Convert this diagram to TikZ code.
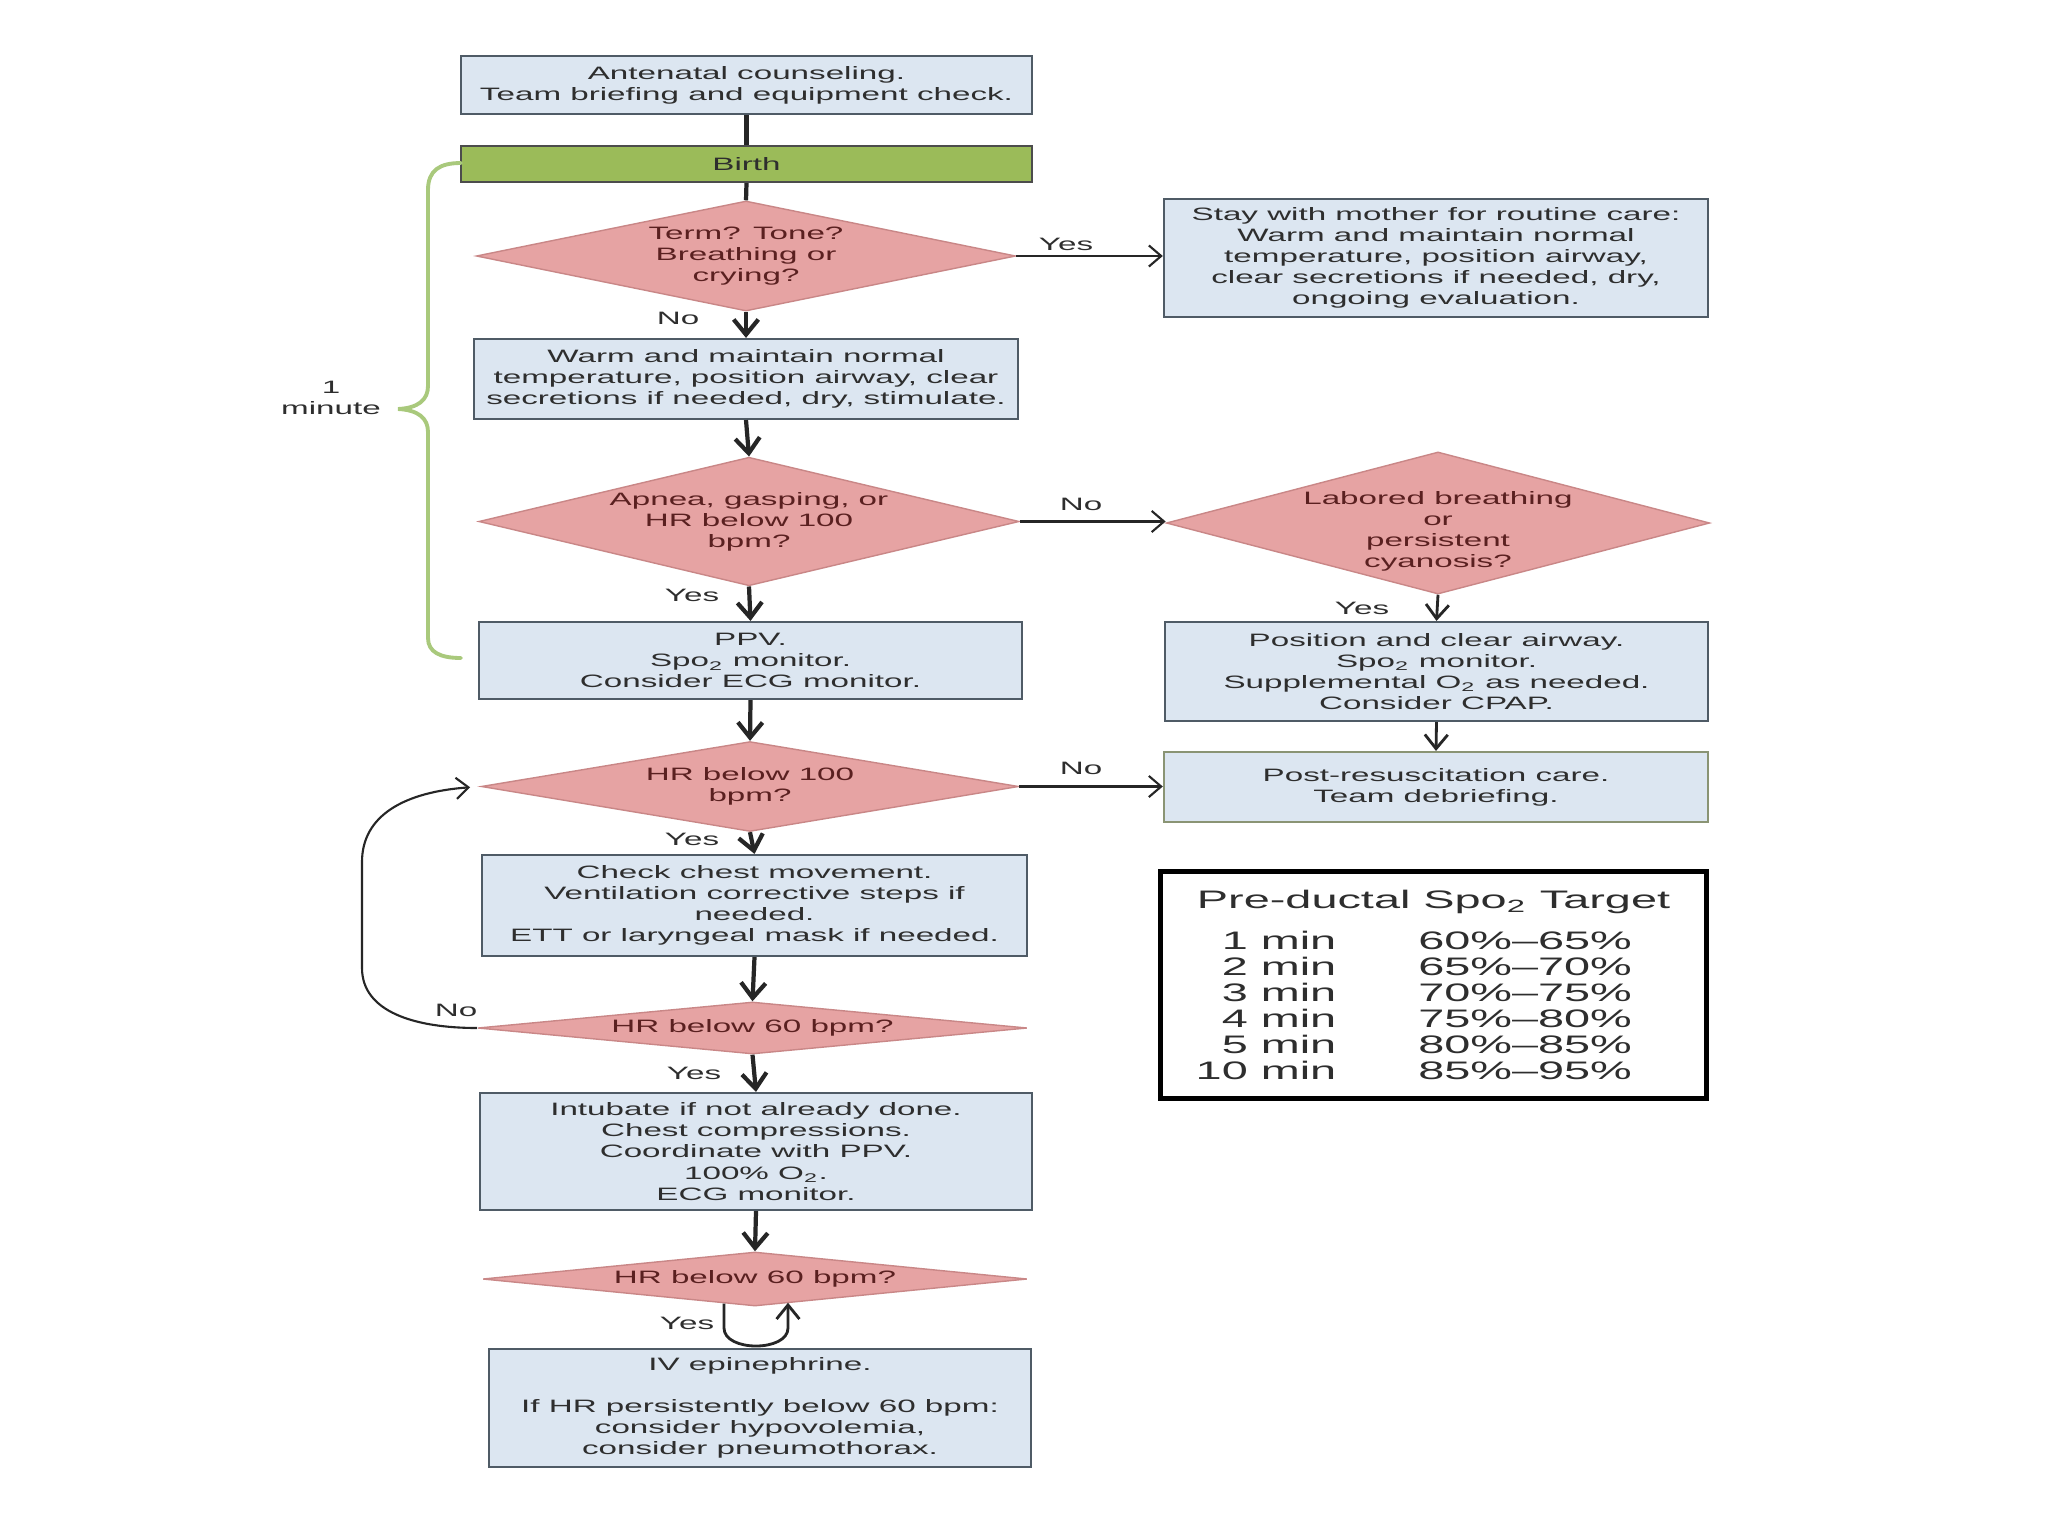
\documentclass[tikz,border=0pt]{standalone}
\usepackage{fontspec}
\setmainfont[FakeStretch=1.85]{Liberation Sans}
\usetikzlibrary{shapes.geometric,arrows.meta,calc}
\definecolor{boxfill}{HTML}{DCE6F1}
\definecolor{boxdraw}{HTML}{4F5B66}
\definecolor{dfill}{HTML}{E6A3A3}
\definecolor{ddraw}{HTML}{C98787}
\definecolor{dtext}{HTML}{5A2020}
\definecolor{birthfill}{HTML}{9BBB59}
\definecolor{bracec}{HTML}{A9C97C}
\definecolor{txt}{HTML}{2E2E2E}
\definecolor{postdraw}{HTML}{8A9474}
\newcommand\mainfs{\fontsize{5.1}{6}\selectfont}
\newcommand\tabfs{\fontsize{7.2}{7.1}\selectfont}
\newcommand\zerotext[1]{\makebox[0pt][c]{\smash{\begin{tabular}{@{}c@{}}#1\end{tabular}}}}
\tikzset{
  box/.style={draw=boxdraw, fill=boxfill, line width=0.6pt, text=txt, align=center, inner sep=0pt, font=\mainfs},
  dia/.style={diamond, aspect=4, draw=ddraw, fill=dfill, line width=0.4pt, text=dtext, align=center, inner sep=0pt, font=\mainfs},
  lab/.style={text=txt, font=\mainfs, inner sep=0pt},
  thick line/.style={draw=black!85, line width=1.2pt},
  bigarr/.style={draw=black!85, line width=1.2pt, -{Straight Barb[length=4.3pt,width=7pt]}},
  medarr/.style={draw=black!85, line width=0.8pt, -{Straight Barb[length=4pt,width=6.5pt]}},
  thinarr/.style={draw=black!85, line width=0.6pt, -{Straight Barb[length=3.5pt,width=6pt]}}
}
\begin{document}
\begin{tikzpicture}[x=0.01cm, y=-0.01cm]
\fill[white] (0,0) rectangle (2048,1536);
\useasboundingbox (0,0) rectangle (2048,1536);

% left column
\node[box, minimum width=5.71cm, minimum height=0.58cm] (box1) at (746.5,85)
  {Antenatal counseling.\\Team briefing and equipment check.};
\node[box, fill=birthfill, draw=black!70, minimum width=5.71cm, minimum height=0.36cm] (birth) at (746.5,164) {Birth};
\node[dia, minimum width=5.39cm, minimum height=1.1cm] (d1) at (746,256)
  {Term? Tone?\\Breathing or\\crying?};
\node[box, minimum width=5.44cm, minimum height=1.18cm] (stay) at (1436,258)
  {Stay with mother for routine care:\\Warm and maintain normal\\temperature, position airway,\\clear secretions if needed, dry,\\ongoing evaluation.};
\node[box, minimum width=5.44cm, minimum height=0.8cm] (warm) at (746,379)
  {Warm and maintain normal\\temperature, position airway, clear\\secretions if needed, dry, stimulate.};
\node[dia, minimum width=5.40cm, minimum height=1.21cm] (d2) at (749,521.5)
  {Apnea, gasping, or\\HR below 100\\bpm?};
\node[dia, minimum width=5.43cm, minimum height=1.42cm] (d3) at (1438,523)
  {\smash{\raisebox{-3.75pt}{\zerotext{Labored breathing\\or\\persistent\\cyanosis?}}}};
\node[box, minimum width=5.43cm, minimum height=0.99cm] (pos) at (1436.5,671.5)
  {Position and clear airway.\\Spo\textsubscript{2} monitor.\\Supplemental O\textsubscript{2} as needed.\\Consider CPAP.};
\node[box, draw=postdraw, minimum width=5.44cm, minimum height=0.70cm] (post) at (1436,787)
  {Post-resuscitation care.\\Team debriefing.};
\node[box, minimum width=5.43cm, minimum height=0.77cm] (ppv) at (750.5,660.5)
  {PPV.\\Spo\textsubscript{2} monitor.\\Consider ECG monitor.};
\node[dia, minimum width=5.37cm, minimum height=0.81cm] (d4) at (750,786.5)
  {HR below 100\\bpm?};
\node[box, minimum width=5.45cm, minimum height=1.01cm] (check) at (754.5,905.5)
  {Check chest movement.\\Ventilation corrective steps if\\needed.\\ETT or laryngeal mask if needed.};
\node[dia, aspect=9, minimum width=5.49cm, minimum height=0.52cm] (d5) at (752.5,1028)
  {HR below 60 bpm?};
\node[box, minimum width=5.52cm, minimum height=1.17cm] (intub) at (756,1151.5)
  {Intubate if not already done.\\Chest compressions.\\Coordinate with PPV.\\100\% O\textsubscript{2}.\\ECG monitor.};
\node[dia, aspect=9, minimum width=5.44cm, minimum height=0.54cm] (d6) at (755,1279)
  {HR below 60 bpm?};
\node[box, minimum width=5.42cm, minimum height=1.18cm] (epi) at (760,1408)
  {IV epinephrine.\\[6pt]If HR persistently below 60 bpm:\\consider hypovolemia,\\consider pneumothorax.};

% SpO2 table
\node[draw=black, line width=1.4pt, fill=white, minimum width=5.45cm, minimum height=2.26cm, inner sep=0pt] (spo) at (1433.5,985) {};
\node[text=txt, font=\tabfs, inner sep=0pt] (spotitle) at (1433.5,902) {Pre-ductal Spo\textsubscript{2} Target};
\node[text=txt, font=\tabfs, inner sep=0pt, anchor=west] (sporows) at (1195,1009)
  {\begin{tabular}{@{}r@{\ }l@{\hspace{0.82cm}}l@{}}
   1 & min & 60\%–65\%\\
   2 & min & 65\%–70\%\\
   3 & min & 70\%–75\%\\
   4 & min & 75\%–80\%\\
   5 & min & 80\%–85\%\\
   10 & min & 85\%–95\%
   \end{tabular}};

% brace
\coordinate (bracetop) at (461,163);
\coordinate (bracetip) at (398,409);
\coordinate (bracebot) at (461,658);
\draw[bracec, line width=1.1pt, line cap=round]
  (bracetop) .. controls (440,163) and (428,170) .. (428,190) -- (428,386)
  .. controls (428,400) and (418,408) .. (bracetip)
  .. controls (418,410) and (428,418) .. (428,432) -- (428,638)
  .. controls (428,652) and (440,658) .. (bracebot);
\node[lab, align=center] (oneminute) at (331,398) {1\\minute};

% connectors
\draw[thick line] (box1.south) -- (birth.north);
\draw[thick line] (birth.south) -- (d1.north);
\draw[thinarr] (d1.east) -- (d1.east -| stay.west);
\draw[bigarr] (d1.south) -- (warm.north);
\draw[bigarr] (warm.south) -- (d2.north);
\draw[thinarr] (d2.east) -- (d2.east -| d3.west);
\draw[medarr] (d3.south) -- (pos.north);
\draw[medarr] (pos.south) -- (post.north);
\draw[bigarr] (d2.south) -- (ppv.north);
\draw[bigarr] (ppv.south) -- (d4.north);
\draw[thinarr] (d4.east) -- (d4.east -| post.west);
\draw[bigarr] (d4.south) -- (check.north);
\draw[bigarr] (check.south) -- (d5.north);
\draw[thinarr, shorten >=3pt] (d5.west) .. controls (415,1028) and (362,1012) .. (362,968)
  -- (362,862) .. controls (362,815) and (405,792) .. (d4.west);
\draw[bigarr] (d5.south) -- (intub.north);
\draw[bigarr] (intub.south) -- (d6.north);
\draw[medarr] ($(d6.south)+(-31,-3)$) -- (724,1328) .. controls (724,1352) and (788,1352) .. (788,1328) -- ($(d6.south)+(33,-4)$);

% labels
\node[lab] (l1) at (1066,244) {Yes};
\node[lab] (l2) at (678,318) {No};
\node[lab] (l3) at (1081,504) {No};
\node[lab] (l4) at (1362,608) {Yes};
\node[lab] (l5) at (692,595) {Yes};
\node[lab] (l6) at (1081,768) {No};
\node[lab] (l7) at (692,839) {Yes};
\node[lab] (l8) at (456,1010) {No};
\node[lab] (l9) at (694,1073) {Yes};
\node[lab] (l10) at (687,1323) {Yes};
\end{tikzpicture}
\end{document}
